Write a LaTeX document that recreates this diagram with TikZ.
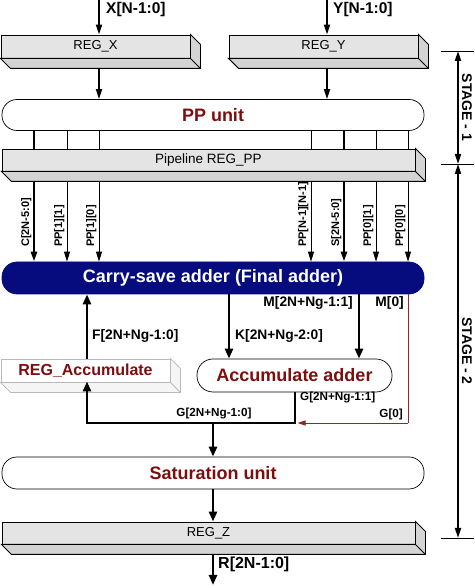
\documentclass[tikz,border=0pt]{standalone}
\usepackage{fontspec}
\setmainfont{Liberation Sans}
\usetikzlibrary{arrows.meta,calc}
\definecolor{maroon}{RGB}{125,14,14}
\definecolor{navy}{RGB}{6,12,125}
\definecolor{regfront}{RGB}{228,228,228}
\definecolor{regside}{RGB}{212,212,212}
\definecolor{gline}{RGB}{150,36,36}

% bottom and right faces of a register box
\newcommand{\regdepth}[3][black]{%
  \draw[#1, fill=#3] (#2.south west) -- ++(10,-10) -- ($(#2.south east)+(10,-10)$)
    -- ($(#2.north east)+(10,-10)$) -- (#2.north east) -- (#2.south east) -- cycle;
  \draw[#1] (#2.south east) -- ++(10,-10);}

\begin{document}
\begin{tikzpicture}[x=1pt,y=1pt]
\tikzstyle{reg} = [draw, line width=0.9pt, fill=regfront, inner sep=0, minimum height=23pt, font=\fontsize{13}{13}\selectfont]
\tikzstyle{unit} = [draw, line width=0.7pt, rounded corners=15pt, inner sep=0, minimum height=31pt, text=maroon, font=\fontsize{18}{18}\selectfont\bfseries]
\tikzstyle{thk} = [line width=2.6pt, -{Triangle[length=10pt,width=8pt]}]
\tikzstyle{thn} = [line width=1pt, -{Triangle[length=10pt,width=6pt]}]
\tikzstyle{sig} = [inner sep=0, font=\fontsize{13.8}{14}\selectfont\bfseries]
\tikzstyle{gsig} = [inner sep=0, font=\fontsize{11.7}{12}\selectfont\bfseries]
\tikzstyle{rot} = [inner sep=0, rotate=90, anchor=south west, font=\fontsize{11}{11}\selectfont\bfseries]
\tikzstyle{stage} = [inner sep=0, rotate=-90, font=\fontsize{14}{14}\selectfont\bfseries]
\useasboundingbox (0,0) rectangle (474,588);

% stage 1
\coordinate (xin) at (99,588);
\coordinate (yin) at (327,588);
\node (xl) [sig, anchor=west, font=\fontsize{15.5}{16}\selectfont\bfseries] at (106,578) {X[N-1:0]};
\node (yl) [sig, anchor=west, font=\fontsize{15.5}{16}\selectfont\bfseries] at (333,578) {Y[N-1:0]};
\node (regx) [reg, minimum width=189pt] at (95.5,541.5) {REG\_X};
\node (regy) [reg, minimum width=189pt] at (323.5,541.5) {REG\_Y};
\regdepth[line width=0.9pt]{regx}{regside}
\regdepth[line width=0.9pt]{regy}{regside}
\node (pp) [unit, minimum width=422pt] at (213,473) {PP unit};
\node (regpp) [reg, minimum width=413pt, minimum height=22pt, font=\fontsize{13.5}{14}\selectfont] at (208.5,428) {Pipeline REG\_PP};
\regdepth[line width=0.9pt]{regpp}{regside}
\draw[thn, line width=1.8pt] (xin) -- (regx.north -| xin);
\draw[thn, line width=1.8pt] (yin) -- (regy.north -| yin);
\draw[thn, line width=1.8pt] ($(regx.south -| xin)+(0,-10)$) -- (pp.north -| xin);
\draw[thn, line width=1.8pt] ($(regy.south -| yin)+(0,-10)$) -- (pp.north -| yin);

% stage 2
\node (csa) [unit, fill=navy, draw=navy, text=white, minimum width=422pt, minimum height=32pt] at (213,310) {Carry-save adder (Final adder)};
\foreach \cx/\lw/\txt in {34/2.6/{C[2N-5:0]}, 67/1/{PP[1][1]}, 99/1/{PP[1][0]}, 311/1/{PP[N-1][N-1]},
    344/2.6/{S[2N-5:0]}, 376/1/{PP[0][1]}, 408/1/{PP[0][0]}} {
  \coordinate (col) at (\cx,0);
  \draw[line width=\lw pt] (pp.south -| col) -- (regpp.north -| col);
  \draw[thn, line width=\lw pt] ($(regpp.south -| col)+(0,-10)$) -- (csa.north -| col);
  \node [rot] at (\cx-2.5,341) {\txt};
}

\node (racc) [reg, draw=gray!55, fill=white, minimum width=169pt, text=maroon, font=\fontsize{16}{16}\selectfont\bfseries] at (85.5,217.5) {REG\_Accumulate};
\regdepth[draw=gray!55, line width=0.8pt]{racc}{gray!8}
\node (aadd) [unit, minimum width=195pt, minimum height=33pt, rounded corners=16pt] at (294.5,212.5) {Accumulate adder};
\node (sat) [unit, minimum width=422pt, minimum height=32pt] at (213,115) {Saturation unit};
\node (regz) [reg, minimum width=413pt, minimum height=22pt] at (208.5,55) {REG\_Z};
\regdepth[line width=0.9pt]{regz}{regside}

\coordinate (fcol) at (87,0);
\coordinate (kcol) at (229,0);
\coordinate (mcol) at (359,0);
\coordinate (m0col) at (408,0);
\coordinate (gcol) at (295,0);
\coordinate (gjoin) at (295,165);
\coordinate (gleft) at (87,165);
\coordinate (gout) at (213,165);
\coordinate (gred) at (408,165);
\coordinate (rout) at (213,3);

\draw[thk] (racc.north -| fcol) -- (csa.south -| fcol);
\draw[thk] (csa.south -| kcol) -- (aadd.north -| kcol);
\draw[thk] (csa.south -| mcol) -- (aadd.north -| mcol);
\draw[gline, line width=0.8pt] (csa.south -| m0col) -- (gred);
\draw[gline, line width=0.8pt, -{Triangle[length=8pt,width=5pt]}] (gred) -- ($(gjoin)+(2.5,0)$);
\draw[line width=2.6pt] (aadd.south -| gcol) -- (gjoin) -- (gleft);
\draw[thk] ($(gleft)+(0,-1.3)$) -- ($(racc.south -| fcol)+(0,1)$);
\draw[thk] (gout) -- (sat.north -| gout);
\draw[thk] (sat.south -| gout) -- (regz.north -| gout);
\draw[thk] ($(regz.south -| gout)+(0,-10)$) -- (rout);

\node (fl) [sig, anchor=west] at (92,252) {F[2N+Ng-1:0]};
\node (kl) [sig, anchor=west] at (235,252) {K[2N+Ng-2:0]};
\node (ml) [sig, anchor=east] at (353,285) {M[2N+Ng-1:1]};
\node (m0l) [sig, anchor=east] at (404,285) {M[0]};
\node (g1l) [gsig, anchor=west] at (300,190) {G[2N+Ng-1:1]};
\node (g0l) [gsig, anchor=east] at (403,174) {G[0]};
\node (gl) [gsig] at (214,174) {G[2N+Ng-1:0]};
\node (rl) [sig, anchor=west, font=\fontsize{16}{16}\selectfont\bfseries] at (218,24) {R[2N-1:0]};

% stage marks
\coordinate (t1) at (458,537);
\coordinate (t2) at (458,424);
\coordinate (t3) at (458,50);
\draw[line width=0.8pt] (441,537) -- (474,537);
\draw[line width=0.8pt] (441,424) -- (474,424);
\draw[line width=0.8pt] (441,50) -- (474,50);
\draw[line width=1.8pt, {Triangle[length=10pt,width=6pt]}-{Triangle[length=10pt,width=6pt]}] (t1) -- (t2);
\draw[line width=1.8pt, {Triangle[length=10pt,width=6pt]}-{Triangle[length=10pt,width=6pt]}] (t2) -- (t3);
\node (s1) [stage] at (467,480.5) {STAGE - 1};
\node (s2) [stage] at (467,237) {STAGE - 2};
\end{tikzpicture}
\end{document}
